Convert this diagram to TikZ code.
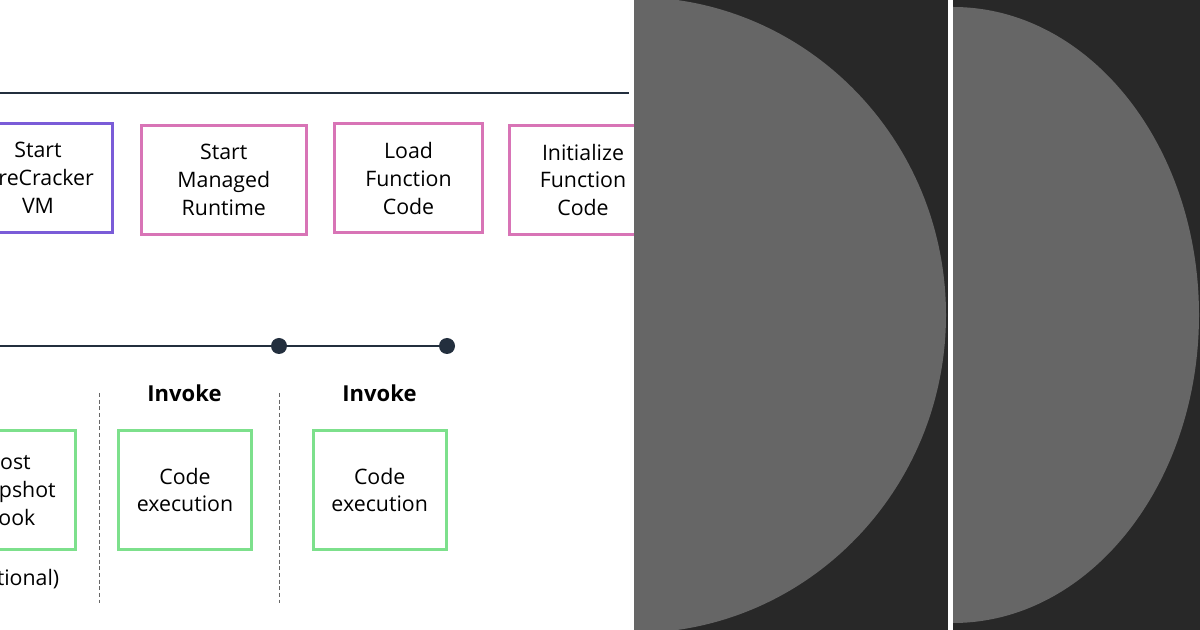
\documentclass[tikz,border=0pt]{standalone}
\usepackage{fontspec}
\setmainfont{Open Sans}
\definecolor{line_navy}{HTML}{232F3E}
\definecolor{vm_purple}{HTML}{7A5CD8}
\definecolor{init_pink}{HTML}{D874B6}
\definecolor{run_green}{HTML}{7DE08C}
\definecolor{panel_dark}{HTML}{282828}
\definecolor{panel_gray}{HTML}{666666}

\begin{document}
\begin{tikzpicture}[
        x=0.75pt, y=-0.75pt,
        phase_box/.style={draw, line width=2.25pt, fill=white, align=center, inner sep=0pt,
            minimum height=81.75pt, font=\fontsize{16}{20.8}\selectfont},
        invoke_box/.style={draw=run_green, line width=2.25pt, fill=white, align=center, inner sep=0pt,
            minimum width=100pt, minimum height=89pt, font=\fontsize{16}{20.8}\selectfont},
        time_line/.style={line_navy, line width=1.5pt},
        dot/.style={circle, fill=line_navy, inner sep=0pt, minimum size=12pt},
        phase_sep/.style={gray!80!black, line width=0.75pt, dash pattern=on 3pt off 2pt},
        invoke_label/.style={font=\fontsize{16.5}{20}\selectfont\bfseries}
    ]
    \clip (0,0) rectangle (1200,630);
    \fill[white] (0,0) rectangle (1200,630);

    % Init phase: time line and steps
    \coordinate (top_start) at (0,93);
    \coordinate (top_end) at (629,93);
    \draw[time_line] (top_start) -- (top_end);

    \node[phase_box, draw=vm_purple, minimum width=111.75pt] (vm) at (38,178) {Start\\FireCracker\\VM};
    \node[phase_box, draw=init_pink, minimum width=124pt] (runtime) at (223.8,180) {Start\\Managed\\Runtime};
    \node[phase_box, draw=init_pink, minimum width=111.7pt] (load) at (408.5,178.4) {Load\\Function\\Code};
    \node[phase_box, draw=init_pink, minimum width=110.5pt] (init) at (583,180) {Initialize\\Function\\Code};

    % Restore / invoke phase: time line with dots
    \coordinate (low_start) at (0,346);
    \node[dot] (dot1) at (279,346) {};
    \node[dot] (dot2) at (447,346) {};
    \draw[time_line] (low_start) -- (dot1) -- (dot2);

    % Separators between invokes (dashed)
    \coordinate (sep1_top) at (99.5,393);
    \coordinate (sep1_bot) at (99.5,603);
    \coordinate (sep2_top) at (279.3,393);
    \coordinate (sep2_bot) at (279.3,603);
    \draw[phase_sep] (sep1_top) -- (sep1_bot);
    \draw[phase_sep] (sep2_top) -- (sep2_bot);

    % Hook and code execution boxes
    \node[invoke_box] (hook) at (9,490) {Post\\Snapshot\\Hook};
    \node[font=\fontsize{16}{20}\selectfont] (optional) at (10,580) {(Optional)};
    \node[invoke_label] (invoke1) at (184.5,393) {Invoke};
    \node[invoke_box] (exec1) at (185,490) {Code\\execution};
    \node[invoke_label] (invoke2) at (379.5,393) {Invoke};
    \node[invoke_box] (exec2) at (379.7,490) {Code\\execution};

    % Dark panels with gray half discs
    \fill[panel_dark] (634,0) rectangle (948,630);
    \fill[panel_dark] (953,0) rectangle (1200,630);
    \begin{scope}
        \clip (634,0) rectangle (948,630);
        \fill[panel_gray] (634,315) ellipse [x radius=312, y radius=318];
    \end{scope}
    \begin{scope}
        \clip (953,0) rectangle (1200,630);
        \fill[panel_gray] (953,315) ellipse [x radius=246, y radius=308];
    \end{scope}

    \end{tikzpicture}
\end{document}
